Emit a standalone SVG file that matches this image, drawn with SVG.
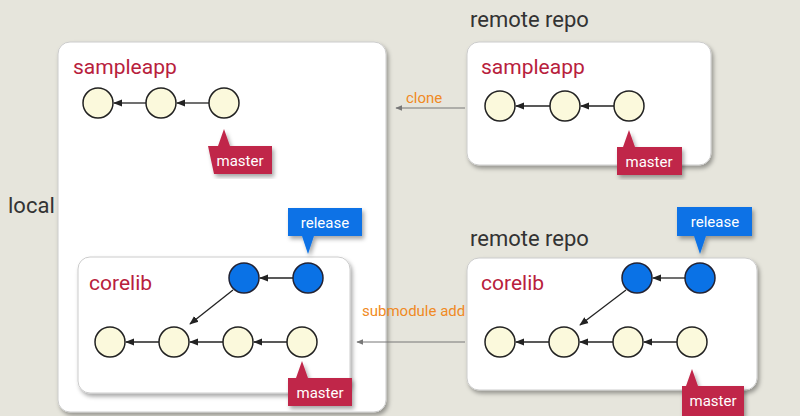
<svg xmlns="http://www.w3.org/2000/svg" width="800" height="416" viewBox="0 0 800 416">
<defs>
<style>
.box{fill:#fff;stroke:#ccc;stroke-width:1}
.y{fill:#fbf9dc;stroke:#222;stroke-width:1.5}
.b{fill:#0a72e6;stroke:#223;stroke-width:1.5}
.t{font-family:Roboto,"Liberation Sans",sans-serif}
.repo{fill:#b8203c;font-size:21px}
.hd{fill:#333;font-size:22px}
.tag{fill:#fff;font-size:15px;text-anchor:middle}
.lbl{fill:#f08a24;font-size:15px}
.e{stroke:#222;stroke-width:1.3;fill:none;marker-end:url(#a)}
.g{stroke:#777;stroke-width:1;fill:none;marker-end:url(#ag)}
</style>
<marker id="a" viewBox="0 0 10 10" refX="9" refY="5" markerWidth="7" markerHeight="7" orient="auto"><path d="M0,1L10,5L0,9z" fill="#222"/></marker>
<marker id="ag" viewBox="0 0 10 10" refX="9" refY="5" markerWidth="7" markerHeight="7" orient="auto"><path d="M0,1L10,5L0,9z" fill="#777"/></marker>
<filter id="s" x="-10%" y="-10%" width="120%" height="120%"><feDropShadow dx="2" dy="3" stdDeviation="2" flood-opacity="0.35"/></filter>
</defs>
<rect width="800" height="416" fill="#e6e5dc"/>
<text class="t hd" x="8" y="213">local</text>
<text class="t hd" x="470" y="27">remote repo</text>
<text class="t hd" x="470" y="246">remote repo</text>

<g id="local-sampleapp">
<rect class="box" x="58" y="42" width="328" height="370" rx="12" filter="url(#s)"/>
<text class="t repo" x="73" y="74">sampleapp</text>
<circle class="y" cx="98" cy="103" r="15"/><circle class="y" cx="161" cy="103" r="15"/><circle class="y" cx="224" cy="103" r="15"/>
</g>
<g id="local-corelib">
<rect class="box" x="78" y="257" width="272" height="136" rx="12" filter="url(#s)"/>
<text class="t repo" x="89" y="290">corelib</text>
<circle class="b" cx="244" cy="278" r="15"/><circle class="b" cx="308" cy="278" r="15"/>
<circle class="y" cx="110" cy="342" r="15"/><circle class="y" cx="174" cy="342" r="15"/><circle class="y" cx="238" cy="342" r="15"/><circle class="y" cx="302" cy="342" r="15"/>
</g>
<g id="remote-sampleapp">
<rect class="box" x="467" y="42" width="244" height="123" rx="12" filter="url(#s)"/>
<text class="t repo" x="481" y="74">sampleapp</text>
<circle class="y" cx="500" cy="106" r="15"/><circle class="y" cx="565" cy="106" r="15"/><circle class="y" cx="629" cy="106" r="15"/>
</g>
<g id="remote-corelib">
<rect class="box" x="467" y="258" width="290" height="132" rx="12" filter="url(#s)"/>
<text class="t repo" x="481" y="290">corelib</text>
<circle class="b" cx="637" cy="278" r="15"/><circle class="b" cx="700" cy="278" r="15"/>
<circle class="y" cx="500" cy="342" r="15"/><circle class="y" cx="564" cy="342" r="15"/><circle class="y" cx="628" cy="342" r="15"/><circle class="y" cx="692" cy="342" r="15"/>
</g>

<g id="connectors">
<path class="e" d="M146,103H114"/><path class="e" d="M209,103H177"/>
<path class="e" d="M550,106H516"/><path class="e" d="M614,106H581"/>
<path class="e" d="M293,278H260"/><path class="e" d="M233,290L190,324"/><path class="e" d="M287,342H254"/><path class="e" d="M223,342H190"/><path class="e" d="M159,342H126"/>
<path class="e" d="M685,278H653"/><path class="e" d="M626,290L580,325"/><path class="e" d="M677,342H644"/><path class="e" d="M613,342H580"/><path class="e" d="M549,342H516"/>
<path class="g" d="M465,108H396"/>
<path class="g" d="M465,342H357"/>
<text class="t lbl" x="406" y="103">clone</text>
<text class="t lbl" x="362" y="316">submodule add</text>
</g>

<g id="tag-local-master"><path d="M208,146h10l6,-17l6,17h42v28h-58z" fill="#c0284a" filter="url(#s)"/><text class="t tag" x="240" y="166">master</text></g>
<g id="tag-local-release"><path d="M288,208h74v28h-48l-6,18l-6,-18h-14z" fill="#0a72e6" filter="url(#s)"/><text class="t tag" x="325" y="228">release</text></g>
<g id="tag-local-core-master"><path d="M288,378h8l6,-17l6,17h44v28h-64z" fill="#c0284a" filter="url(#s)"/><text class="t tag" x="320" y="398">master</text></g>
<g id="tag-remote-master"><path d="M617,147h6l6,-17l6,17h47v28h-65z" fill="#c0284a" filter="url(#s)"/><text class="t tag" x="649" y="167">master</text></g>
<g id="tag-remote-release"><path d="M677,207h75v29h-46l-6,18l-6,-18h-17z" fill="#0a72e6" filter="url(#s)"/><text class="t tag" x="715" y="227">release</text></g>
<g id="tag-remote-core-master"><path d="M682,386h4l6,-17l6,17h46v30h-62z" fill="#c0284a" filter="url(#s)"/><text class="t tag" x="713" y="406">master</text></g>
</svg>
